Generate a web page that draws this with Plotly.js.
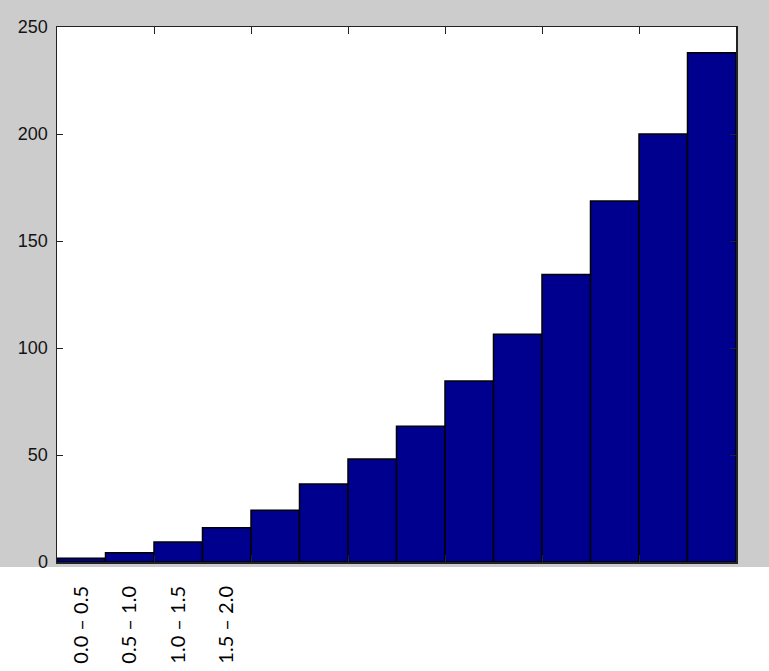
<!DOCTYPE html>
<html>
<head>
<meta charset="utf-8">
<script src="https://cdn.plot.ly/plotly-3.0.1.min.js"></script>
<style>
  html, body { margin: 0; padding: 0; background: #ffffff; }
  #wrap { position: relative; width: 769px; height: 671px; }
  #gray { position: absolute; left: 0; top: 0; width: 769px; height: 567px; background: #cccccc; }
  #chart { position: absolute; left: 0; top: 0; width: 769px; height: 671px; }
</style>
</head>
<body>
<div id="wrap">
  <div id="gray"></div>
  <div id="chart"></div>
</div>
<script>
// Data
const binCenters = [0.25, 0.75, 1.25, 1.75, 2.25, 2.75, 3.25, 3.75, 4.25, 4.75, 5.25, 5.75, 6.25, 6.75];
const counts = [1.7, 4.3, 9.3, 16, 24.2, 36.4, 48.1, 63.4, 84.6, 106.4, 134.3, 168.7, 200, 238];
const binLabels = ['0.0 – 0.5', '0.5 – 1.0', '1.0 – 1.5', '1.5 – 2.0'];
const labelCenters = [0.25, 0.75, 1.25, 1.75];
const xTicks = [1, 2, 3, 4, 5, 6];
const yTicks = [0, 50, 100, 150, 200, 250];

const bars = {
  type: 'bar',
  x: binCenters,
  y: counts,
  width: 0.5,
  marker: { color: '#00008f', line: { color: '#000000', width: 1.5 } },
  hoverinfo: 'skip',
  showlegend: false
};

const labelHolder = {
  type: 'scatter',
  mode: 'markers',
  x: labelCenters,
  y: labelCenters.map(() => 0),
  xaxis: 'x2',
  yaxis: 'y',
  marker: { opacity: 0, size: 1 },
  hoverinfo: 'skip',
  showlegend: false
};

const layout = {
  width: 769,
  height: 671,
  margin: { l: 57, r: 33, t: 27, b: 109, pad: 0 },
  paper_bgcolor: 'rgba(0,0,0,0)',
  plot_bgcolor: '#ffffff',
  bargap: 0,
  showlegend: false,
  xaxis: {
    range: [0, 7],
    tickmode: 'array',
    tickvals: xTicks,
    showticklabels: false,
    ticks: 'inside',
    ticklen: 7,
    tickwidth: 1,
    tickcolor: '#222222',
    mirror: 'ticks',
    showline: true,
    linecolor: '#222222',
    linewidth: 1.5,
    showgrid: false,
    zeroline: false,
    fixedrange: true
  },
  xaxis2: {
    overlaying: 'x',
    anchor: 'y',
    side: 'bottom',
    range: [0, 7],
    tickmode: 'array',
    tickvals: labelCenters,
    ticktext: binLabels,
    tickangle: -90,
    ticks: '',
    showline: false,
    showgrid: false,
    zeroline: false,
    ticklabelstandoff: 19,
    tickfont: { family: 'Lato, "Open Sans", sans-serif', size: 20, color: '#000000' },
    fixedrange: true
  },
  yaxis: {
    range: [0, 250],
    tickmode: 'array',
    tickvals: yTicks,
    ticktext: yTicks.map(String),
    ticks: 'inside',
    ticklen: 6,
    tickwidth: 1,
    tickcolor: '#222222',
    mirror: 'ticks',
    showline: true,
    linecolor: '#222222',
    linewidth: 1.5,
    showgrid: false,
    zeroline: false,
    ticklabelstandoff: 4,
    tickfont: { family: '"Liberation Sans", Arial, sans-serif', size: 18, color: '#141414' },
    fixedrange: true
  }
};

Plotly.newPlot('chart', [bars, labelHolder], layout, { displayModeBar: false, staticPlot: true });
</script>
</body>
</html>
